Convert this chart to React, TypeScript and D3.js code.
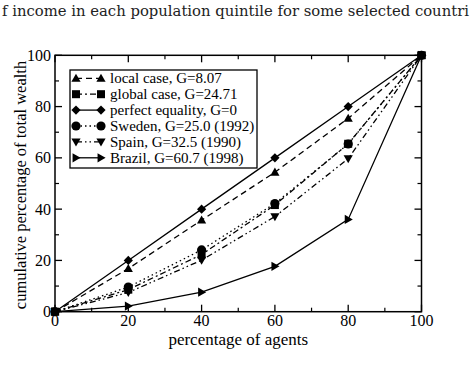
import React from "react";
import * as d3 from "d3";

const agents = [0, 20, 40, 60, 80, 100];
const localCase = [0, 16.8, 35.7, 54.4, 75.4, 100];
const globalCase = [0, 8.6, 22.3, 41.6, 65.5, 100];
const perfectEquality = [0, 20, 40, 60, 80, 100];
const sweden = [0, 9.6, 24.1, 42.2, 65.4, 100];
const spain = [0, 7.5, 20.1, 37.1, 59.7, 100];
const brazil = [0, 2.2, 7.6, 17.7, 36.0, 100];

const seriesNames = [
  "local case, G=8.07",
  "global case, G=24.71",
  "perfect equality, G=0",
  "Sweden, G=25.0 (1992)",
  "Spain, G=32.5 (1990)",
  "Brazil, G=60.7 (1998)",
];
const xTicks = [0, 20, 40, 60, 80, 100];
const yTicks = [0, 20, 40, 60, 80, 100];
const minorTicks = [10, 30, 50, 70, 90];

const titleText = "f income in each population quintile for some selected countri";
const xLabel = "percentage of agents";
const yLabel = "cumulative percentage of  total wealth";

const series = [
  { name: seriesNames[0], values: localCase, dash: "6,4", marker: "triUp" },
  { name: seriesNames[1], values: globalCase, dash: "6,3,2,3", marker: "square" },
  { name: seriesNames[2], values: perfectEquality, dash: "", marker: "diamond" },
  { name: seriesNames[3], values: sweden, dash: "1.5,3", marker: "circle" },
  { name: seriesNames[4], values: spain, dash: "6,3,1.5,3,1.5,3", marker: "triDown" },
  { name: seriesNames[5], values: brazil, dash: "", marker: "triRight" },
];

function Marker({ type, x, y }: { type: string; x: number; y: number }) {
  const s = 4.6;
  switch (type) {
    case "triUp":
      return <path d={`M${x},${y - s}L${x + s},${y + s * 0.75}L${x - s},${y + s * 0.75}Z`} fill="#000" />;
    case "triDown":
      return <path d={`M${x},${y + s}L${x + s},${y - s * 0.75}L${x - s},${y - s * 0.75}Z`} fill="#000" />;
    case "triRight":
      return <path d={`M${x + s},${y}L${x - s * 0.75},${y - s}L${x - s * 0.75},${y + s}Z`} fill="#000" />;
    case "square":
      return <rect x={x - 4} y={y - 4} width={8} height={8} fill="#000" />;
    case "diamond":
      return <path d={`M${x},${y - s}L${x + s},${y}L${x},${y + s}L${x - s},${y}Z`} fill="#000" />;
    case "circle":
      return <circle cx={x} cy={y} r={4.6} fill="#000" />;
    default:
      return null;
  }
}

export default function App() {
  const W = 474;
  const H = 366;
  const left = 55, right = 421.5, top = 55.3, bottom = 311.7;
  const x = d3.scaleLinear().domain([0, 100]).range([left, right]);
  const y = d3.scaleLinear().domain([0, 100]).range([bottom, top]);
  const line = d3
    .line<number>()
    .x((_, i) => x(agents[i]))
    .y((d) => y(d));
  const font = "Liberation Serif, DejaVu Serif, serif";

  const legX0 = 70, legY0 = 70, legW = 187, legH = 98;
  const rowY = (i: number) => 78.3 + i * 15.9;

  return (
    <svg
      width={W}
      height={H}
      style={{ position: "absolute", left: 0, top: 0, background: "#fff", fontFamily: font }}
    >
      <rect x={0} y={0} width={W} height={H} fill="#fff" />
      <text
        x={2}
        y={16}
        fontSize={15.5}
        style={{ fontFamily: "'DejaVu Serif', serif", fontWeight: 300 }}
        textLength={467}
        lengthAdjust="spacingAndGlyphs"
        fill="#222"
      >
        {titleText}
      </text>

      {/* ticks */}
      {xTicks.map((t) => (
        <g key={"xt" + t}>
          <line x1={x(t)} x2={x(t)} y1={bottom} y2={bottom - 7} stroke="#000" strokeWidth={1.3} />
          <line x1={x(t)} x2={x(t)} y1={top} y2={top + 7} stroke="#000" strokeWidth={1.3} />
          <text x={x(t)} y={326} fontSize={16} textAnchor="middle">
            {t}
          </text>
        </g>
      ))}
      {minorTicks.map((t) => (
        <g key={"mt" + t}>
          <line x1={x(t)} x2={x(t)} y1={bottom} y2={bottom - 4} stroke="#000" strokeWidth={1.2} />
          <line x1={x(t)} x2={x(t)} y1={top} y2={top + 4} stroke="#000" strokeWidth={1.2} />
          <line x1={left} x2={left + 4} y1={y(t)} y2={y(t)} stroke="#000" strokeWidth={1.2} />
          <line x1={right} x2={right - 4} y1={y(t)} y2={y(t)} stroke="#000" strokeWidth={1.2} />
        </g>
      ))}
      {yTicks.map((t) => (
        <g key={"yt" + t}>
          <line x1={left} x2={left + 7} y1={y(t)} y2={y(t)} stroke="#000" strokeWidth={1.3} />
          <line x1={right} x2={right - 7} y1={y(t)} y2={y(t)} stroke="#000" strokeWidth={1.3} />
          <text x={51} y={y(t) + 5.5} fontSize={16} textAnchor="end">
            {t}
          </text>
        </g>
      ))}
      <rect x={left} y={top} width={right - left} height={bottom - top} fill="none" stroke="#000" strokeWidth={1.5} />

      {/* series */}
      {series.map((s) => (
        <g key={s.name}>
          <path d={line(s.values) || ""} fill="none" stroke="#000" strokeWidth={1.3} strokeDasharray={s.dash || undefined} />
          {s.values.map((v, i) => (
            <Marker key={i} type={s.marker} x={x(agents[i])} y={y(v)} />
          ))}
        </g>
      ))}

      {/* legend */}
      <rect x={legX0} y={legY0} width={legW} height={legH} fill="#fff" stroke="#000" strokeWidth={1.3} />
      {series.map((s, i) => (
        <g key={"lg" + i}>
          <line x1={76} x2={101} y1={rowY(i)} y2={rowY(i)} stroke="#000" strokeWidth={1.3} strokeDasharray={s.dash || undefined} />
          <Marker type={s.marker} x={76} y={rowY(i)} />
          <Marker type={s.marker} x={101} y={rowY(i)} />
          <text x={110} y={rowY(i) + 5} fontSize={15}>
            {s.name}
          </text>
        </g>
      ))}

      <text x={(left + right) / 2} y={345} fontSize={17} textAnchor="middle">
        {xLabel}
      </text>
      <text transform={`translate(26,185) rotate(-90)`} fontSize={16.5} textAnchor="middle">
        {yLabel}
      </text>
    </svg>
  );
}
